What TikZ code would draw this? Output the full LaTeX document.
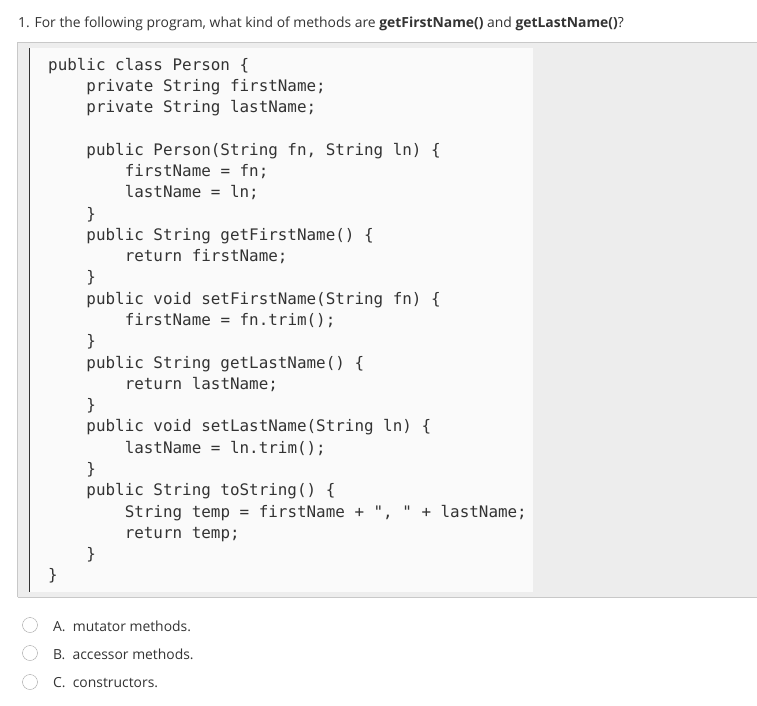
\documentclass[tikz,border=0pt]{standalone}
\usepackage{fontspec}
\setmainfont{Open Sans}
\setmonofont{DejaVu Sans Mono}
\usepackage{xcolor}
\usetikzlibrary{positioning}

\definecolor{panelfill}{HTML}{EDEDED}
\definecolor{panelline}{HTML}{C8C8C8}
\definecolor{codefill}{HTML}{FAFAFA}
\definecolor{textgray}{HTML}{333333}
\definecolor{radiogray}{HTML}{A0A0A0}
\newcommand{\ind}{\phantom{0000}}

\begin{document}
\begin{tikzpicture}[x=1pt,y=-1pt]
  \tikzstyle{txt}=[inner sep=0pt,anchor=base west,text=textgray,font=\fontsize{13.9}{16}\selectfont]
  \tikzstyle{codeline}=[inner sep=0pt,anchor=base west,text=textgray,font=\ttfamily\fontsize{15.9}{21}\selectfont]
  \tikzstyle{radio}=[circle,draw=radiogray,fill=white,minimum size=15pt,inner sep=0pt]
  \useasboundingbox (0,0) rectangle (757,705);

  % question
  \node[txt] (question) at (18,27) {1. For the following program, what kind of methods are \textbf{getFirstName()} and \textbf{getLastName()}?};

  % code panel
  \fill[panelfill] (17.5,42) rectangle (760,597);
  \draw[panelline] (17.5,597) |- (760,42);
  \draw[panelline] (17.5,597) -- (760,597);
  \fill[codefill] (29.5,48) rectangle (533,592);
  \draw[textgray,line width=1.2pt] (29.5,48) -- (29.5,592);

  \foreach \i/\l in {1/public class Person \{,
                     2/\ind private String firstName;,
                     3/\ind private String lastName;,
                     5/{\ind public Person(String fn, String ln) \{},
                     6/\ind\ind firstName = fn;,
                     7/\ind\ind lastName = ln;,
                     8/\ind \},
                     9/\ind public String getFirstName() \{,
                     10/\ind\ind return firstName;,
                     11/\ind \},
                     12/\ind public void setFirstName(String fn) \{,
                     13/\ind\ind firstName = fn.trim();,
                     14/\ind \},
                     15/\ind public String getLastName() \{,
                     16/\ind\ind return lastName;,
                     17/\ind \},
                     18/\ind public void setLastName(String ln) \{,
                     19/\ind\ind lastName = ln.trim();,
                     20/\ind \},
                     21/\ind public String toString() \{,
                     22/{\ind\ind String temp = firstName + ", " + lastName;},
                     23/\ind\ind return temp;,
                     24/\ind \},
                     25/\}}
    \node[codeline] (line\i) at (48,{70+21.29*(\i-1)}) {\l};

  % answers
  \node[radio] (ra) at (30,625) {};
  \node[radio] (rb) at (30,653) {};
  \node[radio] (rc) at (30,682) {};
  \node[txt] (optA) at (53,631) {A.\ \ mutator methods.};
  \node[txt] (optB) at (53,659) {B.\ \ accessor methods.};
  \node[txt] (optC) at (53,687) {C.\ \ constructors.};

\end{tikzpicture}
\end{document}
